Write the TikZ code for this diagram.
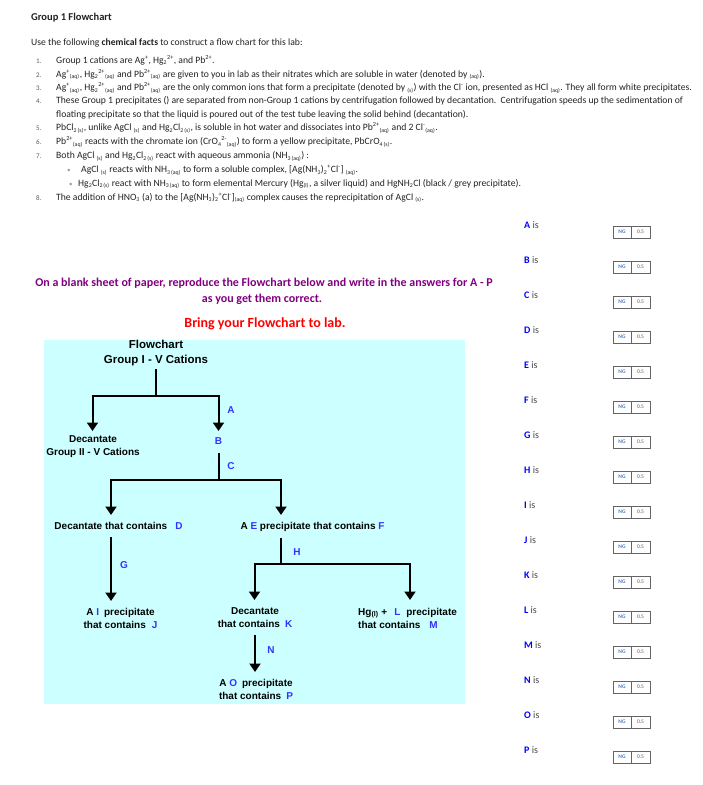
\documentclass[tikz,border=0pt]{standalone}
\usepackage{fontspec}
\setmainfont{Carlito}
\newfontfamily\arialf{Liberation Sans}
\usetikzlibrary{arrows.meta}
\definecolor{cyanbg}{RGB}{204,255,255}
\definecolor{flblue}{RGB}{51,51,255}
\definecolor{purp}{RGB}{128,0,128}
\definecolor{txt}{RGB}{34,34,34}
\definecolor{numgray}{RGB}{90,90,90}
\definecolor{ngblue}{RGB}{74,128,193}
\definecolor{boxgray}{RGB}{100,100,100}
\definecolor{labgray}{RGB}{70,70,70}
\newcommand{\Sb}[1]{\textsubscript{\fontsize{5.8}{6}\selectfont #1}}
\newcommand{\Sp}[1]{\textsuperscript{\fontsize{6.2}{6}\selectfont #1}}
\newcommand{\Aq}{\Sb{(aq)}}
\newcommand{\Sd}{\Sb{(s)}}
\newcommand{\Fb}[1]{\textcolor{flblue}{#1}}
\begin{document}
\begin{tikzpicture}[x=1pt,y=-1pt,
  body/.style={anchor=base west, inner sep=0pt, font=\fontsize{9.65}{11}\selectfont, text=txt},
  num/.style={anchor=base west, inner sep=0pt, font=\fontsize{7}{8}\selectfont, text=numgray},
  fl/.style={font=\arialf\bfseries\fontsize{10}{13}\selectfont, align=center, inner sep=0pt},
  flt/.style={font=\arialf\bfseries\fontsize{11.5}{14.6}\selectfont, align=center, inner sep=0pt},
  let/.style={fl, text=flblue},
  fline/.style={line width=2pt},
  arr/.style={line width=2pt, -{Triangle[width=11pt,length=8.5pt]}},
  boxc/.style={draw=boxgray, line width=0.8pt, minimum height=12pt, inner sep=0pt, font=\bfseries\fontsize{5.5}{6}\selectfont}
]
\useasboundingbox (0,0) rectangle (703,785);
\fill[white] (0,0) rectangle (703,785);

% ---- heading and facts ----
\node[anchor=base west, inner sep=0pt, font=\bfseries\fontsize{10.5}{12}\selectfont, text=txt] (head) at (31,20) {Group 1 Flowchart};
\node[body] (intro) at (31,45.5) {Use the following \textbf{chemical facts} to construct a flow chart for this lab:};

\node[num] (n1) at (36,63) {1.};
\node[body] (f1) at (56,63) {Group 1 cations are Ag\Sp{+}, Hg\Sb{2}\Sp{2+}, and Pb\Sp{2+}.};
\node[num] (n2) at (36,77) {2.};
\node[body] (f2) at (56,77) {Ag\Sp{+}\Aq, Hg\Sb{2}\Sp{2+}\Aq{} and Pb\Sp{2+}\Aq{} are given to you in lab as their nitrates which are soluble in water (denoted by \Aq).};
\node[num] (n3) at (36,90.5) {3.};
\node[body] (f3) at (56,90.5) {Ag\Sp{+}\Aq, Hg\Sb{2}\Sp{2+}\Aq{} and Pb\Sp{2+}\Aq{} are the only common ions that form a precipitate (denoted by \Sd) with the Cl\Sp{-} ion, presented as HCl \Aq. They all form white precipitates.};
\node[num] (n4) at (36,103.5) {4.};
\node[body] (f4) at (56,103.5) {These Group 1 precipitates () are separated from non-Group 1 cations by centrifugation followed by decantation.\ \ Centrifugation speeds up the sedimentation of};
\node[body] (f4b) at (56,117) {floating precipitate so that the liquid is poured out of the test tube leaving the solid behind (decantation).};
\node[num] (n5) at (36,130.5) {5.};
\node[body] (f5) at (56,130.5) {PbCl\Sb{2\,(s)}, unlike AgCl \Sd{} and Hg\Sb{2}Cl\Sb{2\,(s)}, is soluble in hot water and dissociates into Pb\Sp{2+}\Aq{} and 2 Cl\Sp{-}\Aq.};
\node[num] (n6) at (36,144.5) {6.};
\node[body] (f6) at (56,144.5) {Pb\Sp{2+}\Aq{} reacts with the chromate ion (CrO\Sb{4}\Sp{2-}\Aq) to form a yellow precipitate, PbCrO\Sb{4\,(s)}.};
\node[num] (n7) at (36,158.5) {7.};
\node[body] (f7) at (56,158.5) {Both AgCl \Sd{} and Hg\Sb{2}Cl\Sb{2\,(s)} react with aqueous ammonia (NH\Sb{3\,(aq)}) :};
\node[body, text=numgray!60] (b1) at (67,172.5) {\scriptsize\textbullet};
\node[body] (s1) at (81,172.5) {AgCl \Sd{} reacts with NH\Sb{3\,(aq)} to form a soluble complex, [Ag(NH\Sb{3})\Sb{2}\Sp{+}Cl\Sp{-}] \Aq.};
\node[body, text=numgray!60] (b2) at (69,186) {\scriptsize\textbullet};
\node[body] (s2) at (78,186) {Hg\Sb{2}Cl\Sb{2\,(s)} react with NH\Sb{3\,(aq)} to form elemental Mercury (Hg\Sb{(l)}, a silver liquid) and HgNH\Sb{2}Cl (black / grey precipitate).};
\node[num] (n8) at (36,200) {8.};
\node[body] (f8) at (56,200) {The addition of HNO\Sb{3} (a) to the [Ag(NH\Sb{3})\Sb{2}\Sp{+}Cl\Sp{-}]\Aq{} complex causes the reprecipitation of AgCl \Sd.};

% ---- instructions ----
\node[inner sep=0pt, font=\bfseries\fontsize{12}{14}\selectfont, text=purp] (p1) at (264,283) {On a blank sheet of paper, reproduce the Flowchart below and write in the answers for A - P};
\node[inner sep=0pt, font=\bfseries\fontsize{12}{14}\selectfont, text=purp] (p2) at (262,299) {as you get them correct.};
\node[inner sep=0pt, font=\bfseries\fontsize{14}{16}\selectfont, text=red] (p3) at (265,323.5) {Bring your Flowchart to lab.};

% ---- flowchart ----
\fill[cyanbg] (44,340) rectangle (465,704);
\node[flt] (title) at (156,353) {Flowchart\\Group I - V Cations};
\coordinate (t0) at (156,369);
\coordinate (j1) at (156,396);
\coordinate (a1) at (92.5,431);
\coordinate (a2) at (218.5,431);
\draw[fline] (t0) -- (j1);
\draw[arr] (j1) -| (a1);
\draw[arr] (j1) -| (a2);
\node[let] (A) at (231,410) {A};
\node[fl] (dec1) at (93,447) {Decantate\\Group II - V Cations};
\node[let] (B) at (218.5,441.5) {B};

\coordinate (b0) at (218.5,453);
\coordinate (j2) at (218.5,480);
\coordinate (a3) at (111,515);
\coordinate (a4) at (281,515);
\draw[fline] (b0) -- (j2);
\draw[arr] (j2) -| (a3);
\draw[arr] (j2) -| (a4);
\node[let] (C) at (231,466) {C};
\node[fl] (decD) at (118.5,526) {Decantate that contains\hspace{0.8em}\Fb{D}};
\node[fl] (EF) at (312.5,526.5) {A \Fb{E} precipitate that contains \Fb{F}};

\coordinate (e0) at (281,538);
\coordinate (j3) at (281,564);
\coordinate (a5) at (254.5,600);
\coordinate (a6) at (410,600);
\draw[fline] (e0) -- (j3);
\draw[arr] (j3) -| (a5);
\draw[arr] (j3) -| (a6);
\node[let] (H) at (297,552) {H};
\node[fl] (K) at (255,618) {Decantate\\that contains\hspace{0.5em}\Fb{K}};
\node[fl, align=left, anchor=west] (LM) at (358,618) {Hg\textsubscript{(l)} +\hspace{0.7em}\Fb{L}\hspace{0.6em}precipitate\\that contains\hspace{0.9em}\Fb{M}};

\coordinate (d0) at (111,537);
\coordinate (a7) at (111,601);
\draw[arr] (d0) -- (a7);
\node[let] (G) at (124,565) {G};
\node[fl] (IJ) at (120.5,618.5) {A \Fb{I}\hspace{0.5em}precipitate\\that contains\hspace{0.6em}\Fb{J}};

\coordinate (k0) at (255,635);
\coordinate (a8) at (255,672);
\draw[arr] (k0) -- (a8);
\node[let] (N) at (271,650) {N};
\node[fl] (OP) at (256,689.5) {A \Fb{O}\hspace{0.5em}precipitate\\that contains\hspace{0.5em}\Fb{P}};

% ---- answer column ----
\foreach \ltr [count=\k from 0] in {A,B,C,D,E,F,G,H,I,J,K,L,M,N,O,P}{
  \node[anchor=base west, inner sep=0pt, font=\fontsize{10}{12}\selectfont, text=labgray] (lab\ltr) at (524,228.5+35*\k) {\textcolor{blue}{\textbf{\ltr}} is};
  \node[boxc, minimum width=18pt, text=ngblue] (ng\ltr) at (622,232+35*\k) {NG};
  \node[boxc, minimum width=19pt, text=numgray, font=\fontsize{5.5}{6}\selectfont] (pt\ltr) at (640.5,232+35*\k) {0.5};
}
\end{tikzpicture}
\end{document}
